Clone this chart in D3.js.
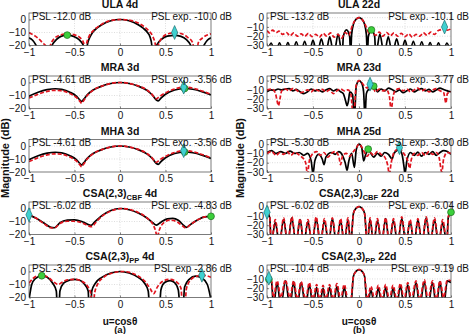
<!DOCTYPE html>
<html><head><meta charset="utf-8">
<script src="https://cdn.jsdelivr.net/npm/d3@7"></script>
<style>
body{margin:0;background:#fff}
text{font-family:Arial,"Liberation Sans",Helvetica,sans-serif}
</style></head>
<body><svg id="c" width="474" height="334"></svg>
<script>
// ---------- data (u, dB) ----------
const ula4Black = [[-1,-14],[-0.96,-16],[-0.93,-19],[-0.91,-22],[-0.85,-45],[-0.76,-22],[-0.74,-19],[-0.7,-15.5],[-0.65,-13],[-0.58,-12],[-0.51,-13],[-0.45,-15.5],[-0.41,-19],[-0.39,-22],[-0.375,-45],[-0.36,-20],[-0.33,-13.5],[-0.3,-9.8],[-0.25,-6.5],[-0.2,-4],[-0.1,-1],[0,0],[0.1,-1],[0.2,-4],[0.25,-6.5],[0.3,-9.8],[0.33,-13.5],[0.35,-20],[0.37,-45],[0.39,-22],[0.41,-19],[0.46,-15],[0.52,-12.8],[0.6,-12.2],[0.67,-13],[0.73,-15.5],[0.77,-19],[0.79,-22],[0.85,-45],[0.91,-22],[0.93,-19],[0.96,-16],[1,-14]];
const ula4Red = [[-1,-10.3],[-0.95,-12],[-0.9,-14.5],[-0.85,-18],[-0.81,-21],[-0.79,-45],[-0.77,-21],[-0.72,-14.5],[-0.65,-11.8],[-0.57,-11],[-0.5,-11.8],[-0.44,-14],[-0.4,-18],[-0.385,-45],[-0.37,-20],[-0.34,-13],[-0.3,-9],[-0.25,-6],[-0.2,-3.6],[-0.1,-0.8],[0.02,0],[0.12,-0.8],[0.22,-3.4],[0.27,-5.8],[0.32,-9],[0.36,-13],[0.39,-20],[0.405,-45],[0.42,-20],[0.47,-13.5],[0.53,-11],[0.6,-10],[0.67,-10.8],[0.74,-13.5],[0.8,-18],[0.83,-45],[0.86,-18],[0.92,-13.5],[1,-11]];

const mra3Black = [[-1,-10.5],[-0.9,-7.5],[-0.8,-5.5],[-0.71,-4.8],[-0.64,-5.3],[-0.55,-7.5],[-0.48,-10.5],[-0.44,-13.5],[-0.42,-14.6],[-0.4,-13],[-0.36,-9.5],[-0.3,-6],[-0.2,-2.8],[-0.1,-0.8],[0,0],[0.1,-0.8],[0.2,-2.8],[0.3,-6.2],[0.36,-10],[0.4,-13.5],[0.42,-14.2],[0.45,-12],[0.5,-9],[0.6,-5.8],[0.71,-4.61],[0.8,-5.2],[0.9,-7],[1,-9.5]];
const mra3Red = [[-1,-12],[-0.9,-9],[-0.8,-6.8],[-0.72,-6],[-0.65,-6.3],[-0.55,-8.5],[-0.48,-11.5],[-0.44,-14.5],[-0.42,-16],[-0.4,-14],[-0.36,-10],[-0.3,-6.2],[-0.2,-2.8],[-0.1,-0.7],[0,0],[0.1,-0.7],[0.2,-2.6],[0.3,-6],[0.35,-9],[0.38,-11.5],[0.4,-12.5],[0.43,-11],[0.5,-8],[0.6,-5],[0.7,-3.56],[0.8,-4.3],[0.9,-6.5],[1,-9.2]];
const mha3Black = mra3Black.map(d => d.slice());
const mha3Red = mra3Red.map(d => d.slice());

const csaCbf4Black = [[-1,-5],[-0.92,-7.5],[-0.84,-11],[-0.76,-14.5],[-0.72,-14.8],[-0.66,-11],[-0.58,-9],[-0.5,-8.7],[-0.42,-10],[-0.36,-12],[-0.32,-13],[-0.28,-10.5],[-0.2,-5.5],[-0.1,-1.5],[0,0],[0.1,-1],[0.2,-3.5],[0.3,-7.5],[0.36,-11],[0.4,-12.8],[0.45,-10.5],[0.52,-8],[0.58,-7.6],[0.64,-9],[0.7,-13],[0.73,-14.5],[0.78,-12],[0.86,-8.5],[0.93,-6.5],[1,-6.02]];
const csaCbf4Red = [[-1,-4.83],[-0.92,-7.5],[-0.84,-11.5],[-0.76,-14.8],[-0.72,-15],[-0.66,-11.5],[-0.58,-9.8],[-0.5,-9.8],[-0.42,-11],[-0.36,-13],[-0.31,-14],[-0.27,-11],[-0.2,-6],[-0.1,-2],[0.02,0],[0.12,-1],[0.2,-3],[0.3,-7.5],[0.36,-12],[0.39,-17],[0.41,-22],[0.43,-17],[0.48,-11],[0.55,-9],[0.62,-10],[0.68,-13],[0.72,-15],[0.78,-12],[0.86,-8.5],[0.93,-6.5],[1,-6]];

const csaPp4Black = [[-1,-22],[-0.97,-10],[-0.93,-5.5],[-0.86,-3.25],[-0.8,-4.5],[-0.74,-9],[-0.7,-15],[-0.68,-45],[-0.66,-15],[-0.62,-9],[-0.55,-6.5],[-0.5,-6],[-0.45,-6.5],[-0.4,-9],[-0.35,-15],[-0.33,-45],[-0.31,-15],[-0.27,-9],[-0.2,-4.5],[-0.1,-1.2],[0,0],[0.1,-1.2],[0.2,-4.5],[0.27,-9],[0.31,-15],[0.34,-45],[0.42,-45],[0.45,-14],[0.49,-8.5],[0.55,-7],[0.6,-8.5],[0.64,-14],[0.68,-45],[0.71,-12],[0.76,-6],[0.83,-3.6],[0.9,-5],[0.96,-10],[1,-22]];
const csaPp4Red = [[-1,-9],[-0.95,-5],[-0.88,-3],[-0.83,-3.2],[-0.78,-5],[-0.72,-8.5],[-0.68,-10],[-0.64,-8.5],[-0.58,-6.5],[-0.5,-6],[-0.42,-7.5],[-0.36,-11],[-0.32,-17],[-0.3,-45],[-0.28,-17],[-0.24,-9],[-0.18,-4.5],[-0.1,-1.5],[0.03,0],[0.12,-1],[0.2,-3.5],[0.28,-8],[0.33,-13],[0.37,-17],[0.41,-12],[0.47,-7.5],[0.55,-6],[0.62,-8],[0.67,-13],[0.7,-45],[0.73,-13],[0.79,-5.5],[0.85,-3.5],[0.9,-2.86],[0.95,-3.2],[1,-4.5]];

const ula22Black = [[-1,-40],[-0.955,-27.4],[-0.909,-40],[-0.864,-27.2],[-0.818,-40],[-0.773,-26.8],[-0.727,-40],[-0.682,-26.2],[-0.636,-40],[-0.591,-25.4],[-0.545,-40],[-0.5,-24.3],[-0.455,-40],[-0.409,-22.8],[-0.364,-40],[-0.318,-20.8],[-0.273,-40],[-0.227,-17.8],[-0.182,-40],[-0.17,-20],[-0.136,-13.2],[-0.102,-20],[-0.091,-40],[-0.08,-18],[-0.06,-7],[-0.03,-1.6],[0,0],[0.03,-1.6],[0.06,-7],[0.08,-18],[0.091,-40],[0.102,-20],[0.136,-13.2],[0.17,-20],[0.182,-40],[0.227,-17.8],[0.273,-40],[0.318,-20.8],[0.364,-40],[0.409,-22.8],[0.455,-40],[0.5,-24.3],[0.545,-40],[0.591,-25.4],[0.636,-40],[0.682,-26.2],[0.727,-40],[0.773,-26.8],[0.818,-40],[0.864,-27.2],[0.909,-40],[0.955,-27.4],[1,-40]];
const ula22Red = [[-1,-14],[-0.97,-16.5],[-0.94,-13.5],[-0.9,-16],[-0.87,-14.5],[-0.83,-18],[-0.79,-16],[-0.75,-19.5],[-0.71,-16.5],[-0.67,-20],[-0.63,-17.5],[-0.59,-20],[-0.55,-17],[-0.51,-20.5],[-0.47,-18],[-0.43,-21],[-0.39,-17],[-0.35,-20],[-0.31,-16.5],[-0.27,-21],[-0.23,-18],[-0.19,-22],[-0.15,-16],[-0.11,-19],[-0.09,-14],[-0.07,-8],[-0.03,-1.5],[0,0],[0.03,-1.5],[0.07,-8],[0.09,-13],[0.11,-17],[0.14,-14],[0.18,-19],[0.22,-15.5],[0.26,-20],[0.3,-16],[0.34,-19.5],[0.38,-16.5],[0.42,-20],[0.46,-17],[0.5,-20.5],[0.54,-17.5],[0.58,-21],[0.62,-18],[0.66,-20],[0.7,-16.5],[0.74,-19],[0.78,-15.5],[0.82,-18],[0.86,-14],[0.9,-12.5],[0.93,-10.1],[0.96,-13.5],[1,-12]];

const mra23Black = [[-1,-12],[-0.96,-10],[-0.92,-10.5],[-0.88,-9],[-0.84,-10],[-0.8,-9],[-0.76,-8.5],[-0.72,-11],[-0.68,-9.5],[-0.64,-12],[-0.6,-14],[-0.56,-12],[-0.52,-9],[-0.48,-11],[-0.44,-10],[-0.4,-12],[-0.36,-10],[-0.32,-8.5],[-0.28,-11],[-0.24,-9.5],[-0.2,-12],[-0.17,-14],[-0.145,-22],[-0.13,-27],[-0.115,-22],[-0.1,-12],[-0.07,-15],[-0.05,-40],[-0.03,-6],[0,0],[0.03,-3],[0.05,-12],[0.065,-40],[0.08,-14],[0.1,-10],[0.12,-9],[0.15,-5.92],[0.18,-8],[0.2,-12],[0.24,-9],[0.28,-11],[0.32,-8],[0.36,-9.5],[0.4,-12],[0.44,-10],[0.48,-13],[0.52,-11],[0.56,-9],[0.6,-12],[0.64,-10],[0.68,-8.5],[0.72,-11],[0.76,-9.5],[0.8,-12],[0.84,-10],[0.88,-8],[0.92,-9.5],[0.96,-11],[1,-12]];
const mra23Red = [[-1,-10],[-0.95,-9],[-0.91,-13],[-0.89,-22],[-0.875,-27],[-0.86,-20],[-0.84,-11],[-0.8,-9],[-0.76,-11],[-0.72,-8.5],[-0.68,-10],[-0.64,-13],[-0.6,-12],[-0.56,-10],[-0.52,-12],[-0.48,-9],[-0.44,-11],[-0.4,-9.5],[-0.36,-12],[-0.32,-10],[-0.28,-14],[-0.24,-11],[-0.2,-9],[-0.16,-11],[-0.12,-10],[-0.09,-14],[-0.06,-40],[-0.03,-5],[0,0],[0.03,-2],[0.06,-6],[0.09,-8],[0.12,-3.77],[0.15,-7],[0.18,-12],[0.22,-9],[0.26,-11],[0.3,-10],[0.33,-17],[0.35,-32],[0.37,-17],[0.4,-10],[0.44,-8.5],[0.48,-11],[0.52,-9],[0.56,-12],[0.6,-10],[0.64,-8],[0.68,-11],[0.72,-9.5],[0.76,-12],[0.8,-10],[0.84,-8.5],[0.88,-11],[0.92,-13],[0.945,-24],[0.96,-14],[1,-12]];

const mha25Black = [[-1,-9],[-0.95,-7],[-0.9,-10],[-0.85,-8],[-0.8,-10],[-0.75,-7.5],[-0.7,-10],[-0.65,-9],[-0.6,-12],[-0.56,-10],[-0.52,-18],[-0.5,-32],[-0.48,-18],[-0.44,-11],[-0.4,-16],[-0.38,-22],[-0.36,-14],[-0.3,-9],[-0.26,-11],[-0.22,-8],[-0.18,-12],[-0.15,-20],[-0.13,-28],[-0.11,-18],[-0.08,-10],[-0.05,-25],[-0.03,-6],[0,0],[0.03,-4],[0.05,-18],[0.07,-12],[0.1,-5.3],[0.13,-10],[0.16,-14],[0.2,-10],[0.24,-13],[0.28,-9],[0.32,-11],[0.36,-16],[0.38,-10],[0.41,-7],[0.44,-6],[0.47,-12],[0.49,-25],[0.5,-32],[0.52,-18],[0.56,-9],[0.6,-12],[0.64,-8.5],[0.68,-13],[0.72,-9],[0.76,-11],[0.8,-8],[0.84,-12],[0.88,-9],[0.92,-7],[0.96,-8],[1,-11]];
const mha25Red = [[-1,-10],[-0.95,-8],[-0.9,-12],[-0.86,-9],[-0.82,-11],[-0.78,-8],[-0.74,-12],[-0.7,-9],[-0.66,-11],[-0.62,-14],[-0.58,-20],[-0.56,-32],[-0.54,-18],[-0.5,-10],[-0.46,-8],[-0.42,-12],[-0.38,-9],[-0.34,-14],[-0.3,-10],[-0.26,-8],[-0.22,-13],[-0.2,-22],[-0.18,-13],[-0.14,-10],[-0.1,-13],[-0.06,-8],[-0.03,-4],[0,0],[0.03,-3],[0.06,-9],[0.09,-13],[0.12,-9],[0.16,-12],[0.2,-8],[0.24,-11],[0.28,-14],[0.31,-22],[0.33,-32],[0.35,-20],[0.38,-9],[0.41,-6],[0.44,-3.8],[0.47,-8],[0.5,-12],[0.53,-18],[0.55,-26],[0.57,-16],[0.6,-10],[0.64,-12],[0.68,-9],[0.72,-12],[0.76,-8],[0.8,-11],[0.84,-9],[0.87,-14],[0.9,-30],[0.92,-16],[0.96,-9],[1,-10]];

const csaCbf22Black = [[-1,-6],[-0.97,-12],[-0.955,-40],[-0.91,-17],[-0.865,-40],[-0.82,-14],[-0.775,-40],[-0.73,-12],[-0.685,-40],[-0.64,-14],[-0.6,-40],[-0.555,-16],[-0.51,-40],[-0.465,-13],[-0.42,-40],[-0.375,-15],[-0.33,-40],[-0.29,-13],[-0.245,-40],[-0.2,-15],[-0.16,-40],[-0.12,-14],[-0.09,-40],[-0.06,-7],[-0.03,-1.6],[0,0],[0.03,-1.6],[0.06,-7],[0.09,-40],[0.12,-14],[0.16,-40],[0.2,-15],[0.245,-40],[0.29,-13],[0.33,-40],[0.375,-15],[0.42,-40],[0.465,-13],[0.51,-40],[0.555,-16],[0.6,-40],[0.64,-14],[0.685,-40],[0.73,-12],[0.775,-40],[0.82,-14],[0.865,-40],[0.91,-17],[0.955,-40],[0.97,-12],[1,-6.02]];
const csaCbf22Red = [[-1,-6.04],[-0.97,-11],[-0.955,-40],[-0.91,-14],[-0.865,-40],[-0.82,-12],[-0.775,-40],[-0.73,-11],[-0.685,-40],[-0.64,-13],[-0.6,-40],[-0.555,-14],[-0.51,-40],[-0.465,-11],[-0.42,-40],[-0.375,-13],[-0.33,-40],[-0.29,-12],[-0.245,-40],[-0.2,-13],[-0.16,-40],[-0.12,-12],[-0.09,-40],[-0.06,-7],[-0.03,-1.6],[0,0],[0.03,-1.6],[0.06,-7],[0.09,-40],[0.12,-12],[0.16,-40],[0.2,-13],[0.245,-40],[0.29,-12],[0.33,-40],[0.375,-13],[0.42,-40],[0.465,-11],[0.51,-40],[0.555,-14],[0.6,-40],[0.64,-13],[0.685,-40],[0.73,-11],[0.775,-40],[0.82,-12],[0.865,-40],[0.91,-14],[0.955,-40],[0.97,-11],[1,-6.5]];

const csaPp22Black = [[-1,-14],[-0.98,-10.4],[-0.95,-14],[-0.93,-40],[-0.89,-14],[-0.85,-40],[-0.8,-12],[-0.75,-40],[-0.71,-13],[-0.67,-40],[-0.63,-14],[-0.58,-40],[-0.54,-16],[-0.5,-40],[-0.46,-19],[-0.43,-40],[-0.39,-20],[-0.36,-40],[-0.32,-19],[-0.28,-40],[-0.24,-18],[-0.2,-40],[-0.16,-19],[-0.12,-40],[-0.09,-40],[-0.06,-7],[-0.03,-1.6],[0,0],[0.03,-1.6],[0.06,-7],[0.09,-40],[0.13,-22],[0.17,-40],[0.21,-20],[0.25,-40],[0.29,-19],[0.33,-40],[0.37,-20],[0.41,-40],[0.45,-17],[0.49,-40],[0.53,-16],[0.57,-40],[0.62,-14],[0.66,-40],[0.71,-13],[0.75,-40],[0.8,-14],[0.84,-40],[0.88,-13],[0.92,-40],[0.96,-12],[1,-14]];
const csaPp22Red = [[-1,-12],[-0.98,-9.19],[-0.95,-12],[-0.93,-30],[-0.89,-12],[-0.85,-30],[-0.8,-11],[-0.75,-30],[-0.71,-12],[-0.67,-32],[-0.63,-13],[-0.58,-32],[-0.54,-14],[-0.5,-32],[-0.46,-16],[-0.43,-32],[-0.39,-17],[-0.36,-32],[-0.32,-16],[-0.28,-32],[-0.24,-15],[-0.2,-32],[-0.16,-16],[-0.12,-32],[-0.09,-32],[-0.06,-7],[-0.03,-1.6],[0,0],[0.03,-1.6],[0.06,-7],[0.09,-32],[0.13,-18],[0.17,-32],[0.21,-17],[0.25,-32],[0.29,-16],[0.33,-32],[0.37,-17],[0.41,-32],[0.45,-15],[0.49,-32],[0.53,-14],[0.57,-32],[0.62,-12],[0.66,-32],[0.71,-11],[0.75,-32],[0.8,-12],[0.84,-32],[0.88,-12],[0.92,-30],[0.96,-11],[1,-12]];

// titles: [main, subscript, suffix]
const titlesLeft = [["ULA 4d","",""],["MRA 3d","",""],["MHA 3d","",""],["CSA(2,3)","CBF"," 4d"],["CSA(2,3)","PP"," 4d"]];
const titlesRight = [["ULA 22d","",""],["MRA 23d","",""],["MHA 25d","",""],["CSA(2,3)","CBF"," 22d"],["CSA(2,3)","PP"," 22d"]];
const pslLeft = ["PSL -12.0 dB","PSL -4.61 dB","PSL -4.61 dB","PSL -6.02 dB","PSL -3.25 dB"];
const pslExpLeft = ["PSL exp. -10.0 dB","PSL exp. -3.56 dB","PSL exp. -3.56 dB","PSL exp. -4.83 dB","PSL exp -2.86 dB"];
const pslRight = ["PSL -13.2 dB","PSL -5.92 dB","PSL -5.30 dB","PSL -6.02 dB","PSL -10.4 dB"];
const pslExpRight = ["PSL exp. -10.1 dB","PSL exp. -3.77 dB","PSL exp. -3.80 dB","PSL exp. -6.04 dB","PSL exp -9.19 dB"];
const greenLeft = [[-0.58,-12.0],[0.71,-4.61],[0.71,-4.61],[1,-6.02],[-0.86,-3.25]];
const cyanLeft = [[0.6,-10.0],[0.7,-3.56],[0.7,-3.56],[-1,-4.83],[0.9,-2.86]];
const greenRight = [[0.135,-13.2],[0.16,-5.92],[0.1,-5.3],[1,-6.02],[-0.98,-10.4]];
const cyanRight = [[0.93,-10.1],[0.12,-3.77],[0.44,-3.8],[-1,-6.04],[-0.98,-9.19]];
const blackLeft = [ula4Black, mra3Black, mha3Black, csaCbf4Black, csaPp4Black];
const redLeft = [ula4Red, mra3Red, mha3Red, csaCbf4Red, csaPp4Red];
const blackRight = [ula22Black, mra23Black, mha25Black, csaCbf22Black, csaPp22Black];
const redRight = [ula22Red, mra23Red, mha25Red, csaCbf22Red, csaPp22Red];
const xTicks = [-1,-0.5,0,0.5,1];
const yTicksLeft = [-20,-10,0];
const yTicksRight = [-30,-20,-10,0];

// ---------- layout ----------
const svg = d3.select("#c");
const bottoms = [45.5, 108.5, 172, 234.5, 297.5];
const ph = 32.5;
const cols = [
  {x0:29, x1:211, yDom:[-20,5], yTicks:yTicksLeft, titles:titlesLeft, psl:pslLeft, pslExp:pslExpLeft, black:blackLeft, red:redLeft, green:greenLeft, cyan:cyanLeft, expEnd:232, label:"(a)", ylabX:9},
  {x0:267, x1:451, yDom:[-30,5], yTicks:yTicksRight, titles:titlesRight, psl:pslRight, pslExp:pslExpRight, black:blackRight, red:redRight, green:greenRight, cyan:cyanRight, expEnd:469, label:"(b)", ylabX:244}
];

cols.forEach((c, ci) => {
  const x = d3.scaleLinear().domain([-1,1]).range([c.x0, c.x1]);
  const cx = (c.x0 + c.x1)/2;
  for (let i = 0; i < 5; i++) {
    const b = bottoms[i], t = b - ph;
    const y = d3.scaleLinear().domain(c.yDom).range([b, t]);
    const g = svg.append("g");
    const clipId = `clip${ci}_${i}`;
    g.append("clipPath").attr("id", clipId).append("rect")
      .attr("x", c.x0).attr("y", t).attr("width", c.x1 - c.x0).attr("height", ph);
    // grid
    g.selectAll(".gy").data(c.yTicks.filter(v => v > c.yDom[0])).join("line")
      .attr("x1", c.x0).attr("x2", c.x1).attr("y1", d => y(d)).attr("y2", d => y(d))
      .attr("stroke", "#c8c8c8").attr("stroke-width", 0.6).attr("stroke-dasharray", "1,1.5");
    g.selectAll(".gx").data(xTicks.slice(1, -1)).join("line")
      .attr("y1", t).attr("y2", b).attr("x1", d => x(d)).attr("x2", d => x(d))
      .attr("stroke", "#c8c8c8").attr("stroke-width", 0.6).attr("stroke-dasharray", "1,1.5");
    // axes
    const ax = g.append("g").attr("transform", `translate(0,${b})`)
      .call(d3.axisBottom(x).tickValues(xTicks).tickFormat(d3.format("")).tickSize(-2).tickPadding(3));
    const ay = g.append("g").attr("transform", `translate(${c.x0},0)`)
      .call(d3.axisLeft(y).tickValues(c.yTicks).tickSize(-2).tickPadding(3));
    [ax, ay].forEach(a => {
      a.select(".domain").remove();
      a.selectAll("line").attr("stroke", "#333").attr("stroke-width", 0.6);
      a.selectAll("text").attr("font-size", 10).attr("fill", "#111")
        .attr("font-family", 'Arial,"Liberation Sans",sans-serif');
    });
    ax.selectAll("text").attr("dy", "0.72em");
    // curves
    const line = d3.line().x(d => x(d[0])).y(d => y(d[1])).curve(d3.curveMonotoneX);
    const cg = g.append("g").attr("clip-path", `url(#${clipId})`);
    cg.append("path").datum(c.black[i]).attr("d", line)
      .attr("fill", "none").attr("stroke", "#000").attr("stroke-width", 1.7).attr("stroke-linejoin", "round");
    cg.append("path").datum(c.red[i]).attr("d", line)
      .attr("fill", "none").attr("stroke", "#e0141e").attr("stroke-width", 1.7).attr("stroke-dasharray", "4,2");
    // box
    g.append("rect").attr("x", c.x0).attr("y", t).attr("width", c.x1 - c.x0).attr("height", ph)
      .attr("fill", "none").attr("stroke", "#444").attr("stroke-width", 0.7);
    // markers
    g.append("circle").attr("cx", x(c.green[i][0])).attr("cy", y(c.green[i][1])).attr("r", 3.4)
      .attr("fill", "#3ccf3c").attr("stroke", "#1d6b1d").attr("stroke-width", 0.7);
    g.append("path").attr("d", d3.symbol(d3.symbolDiamond, 46)())
      .attr("transform", `translate(${x(c.cyan[i][0])},${y(c.cyan[i][1])}) scale(0.85,1.1)`)
      .attr("fill", "#3fd0d0").attr("stroke", "#1c6f70").attr("stroke-width", 0.7);
    // PSL texts
    g.append("text").attr("x", c.x0 + 3).attr("y", t + 6.5).attr("font-size", 10).attr("fill", "#111").text(c.psl[i]);
    g.append("text").attr("x", c.expEnd).attr("y", t + 6.5).attr("font-size", 10).attr("fill", "#111")
      .attr("text-anchor", "end").text(c.pslExp[i]);
    // title
    const tt = g.append("text").attr("x", cx).attr("y", t - 5).attr("text-anchor", "middle")
      .attr("font-size", 10.5).attr("font-weight", "bold").attr("fill", "#111");
    tt.append("tspan").text(c.titles[i][0]);
    if (c.titles[i][1]) {
      tt.append("tspan").attr("dy", 3).attr("font-size", 7.5).text(c.titles[i][1]);
      tt.append("tspan").attr("dy", -3).text(c.titles[i][2]);
    }
  }
  // axis labels
  svg.append("text").attr("transform", `translate(${c.ylabX},158) rotate(-90)`)
    .attr("text-anchor", "middle").attr("font-size", 11).attr("font-weight", "bold").attr("fill", "#111")
    .text("Magnitude (dB)");
  svg.append("text").attr("x", cx).attr("y", 325).attr("text-anchor", "middle")
    .attr("font-size", 10).attr("font-weight", "bold").attr("fill", "#111").text("u=cosθ");
  svg.append("text").attr("x", cx).attr("y", 332.5).attr("text-anchor", "middle")
    .attr("font-size", 9.5).attr("font-weight", "bold").attr("fill", "#111").text(c.label);
});
</script></body></html>
